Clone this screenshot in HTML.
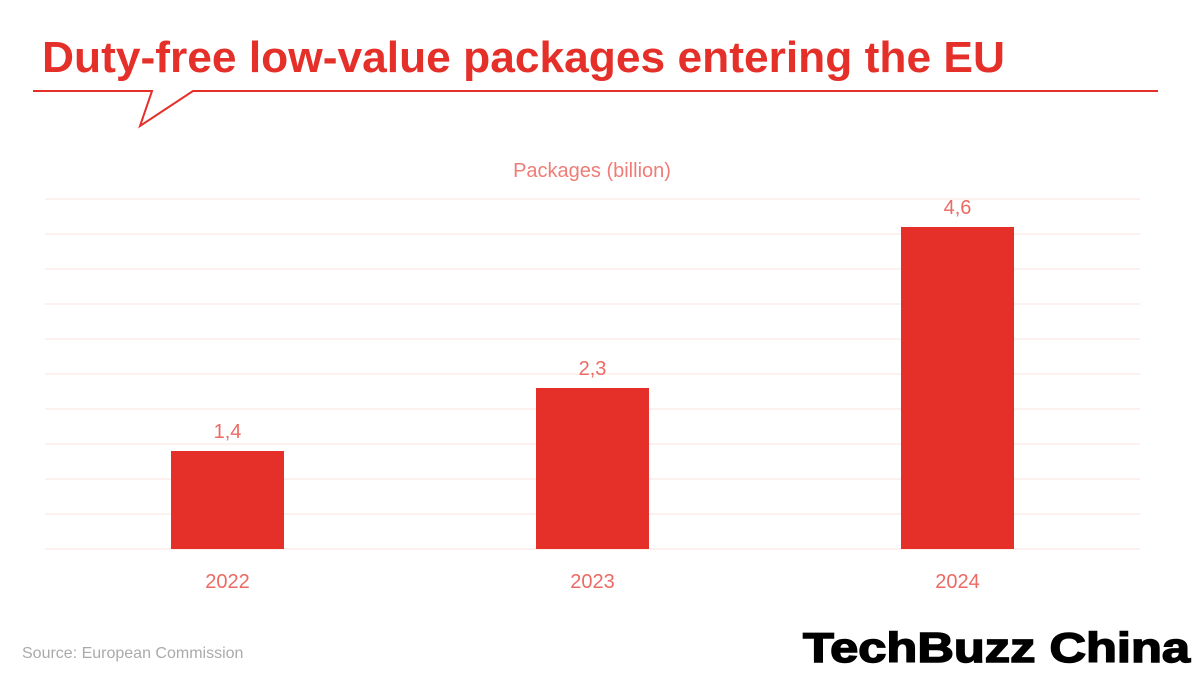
<!DOCTYPE html>
<html><head><meta charset="utf-8"><style>
body{margin:0;background:#fff;width:1200px;height:675px;overflow:hidden}
svg{display:block}
text{font-family:"Liberation Sans",sans-serif}
</style></head><body>
<svg width="1200" height="675">
<text x="42" y="72" font-size="44" font-weight="bold" fill="#e5302a" textLength="963" lengthAdjust="spacingAndGlyphs">Duty-free low-value packages entering the EU</text>
<polyline points="33,91 152,91 140,126 193,91 1158,91" fill="none" stroke="#e5302a" stroke-width="2"/>
<text x="592" y="177" font-size="20" fill="#ef7c76" text-anchor="middle">Packages (billion)</text>
<g id="grid"></g><g id="bars"></g>
<text x="22" y="658" font-size="16" fill="#aaa">Source: European Commission</text>
<text x="803" y="662" font-size="42" font-weight="900" fill="#000" textLength="387" lengthAdjust="spacingAndGlyphs" stroke="#000" stroke-width="1.5">TechBuzz China</text>
</svg>
<script>
const categories=["2022","2023","2024"];
const values=[1.4,2.3,4.6];
const labels=["1,4","2,3","4,6"];
const gridTicks=[0,0.5,1,1.5,2,2.5,3,3.5,4,4.5,5];
const ns="http://www.w3.org/2000/svg";
const y=v=>549-v*70;
const xc=i=>227.5+i*365;
const g=document.getElementById('grid'),b=document.getElementById('bars');
function mk(tag,attrs,p,txt){const e=document.createElementNS(ns,tag);for(const k in attrs)e.setAttribute(k,attrs[k]);if(txt!=null)e.textContent=txt;p.appendChild(e);return e;}
gridTicks.forEach(t=>{const l=mk('line',{x1:45,x2:1140,y1:y(t),y2:y(t),stroke:'#fbe3e2','stroke-width':1},g);

});
categories.forEach((c,i)=>{
const r=mk('rect',{x:xc(i)-56.5,y:y(values[i]),width:113,height:values[i]*70,fill:'#e5302a'},b);


const v=mk('text',{x:xc(i),y:y(values[i])-13,'font-size':20,fill:'#ec6a63','text-anchor':'middle'},b,labels[i]);


const t=mk('text',{x:xc(i),y:588,'font-size':20,fill:'#ec6a63','text-anchor':'middle'},b,c);


});
</script>
</body></html>
